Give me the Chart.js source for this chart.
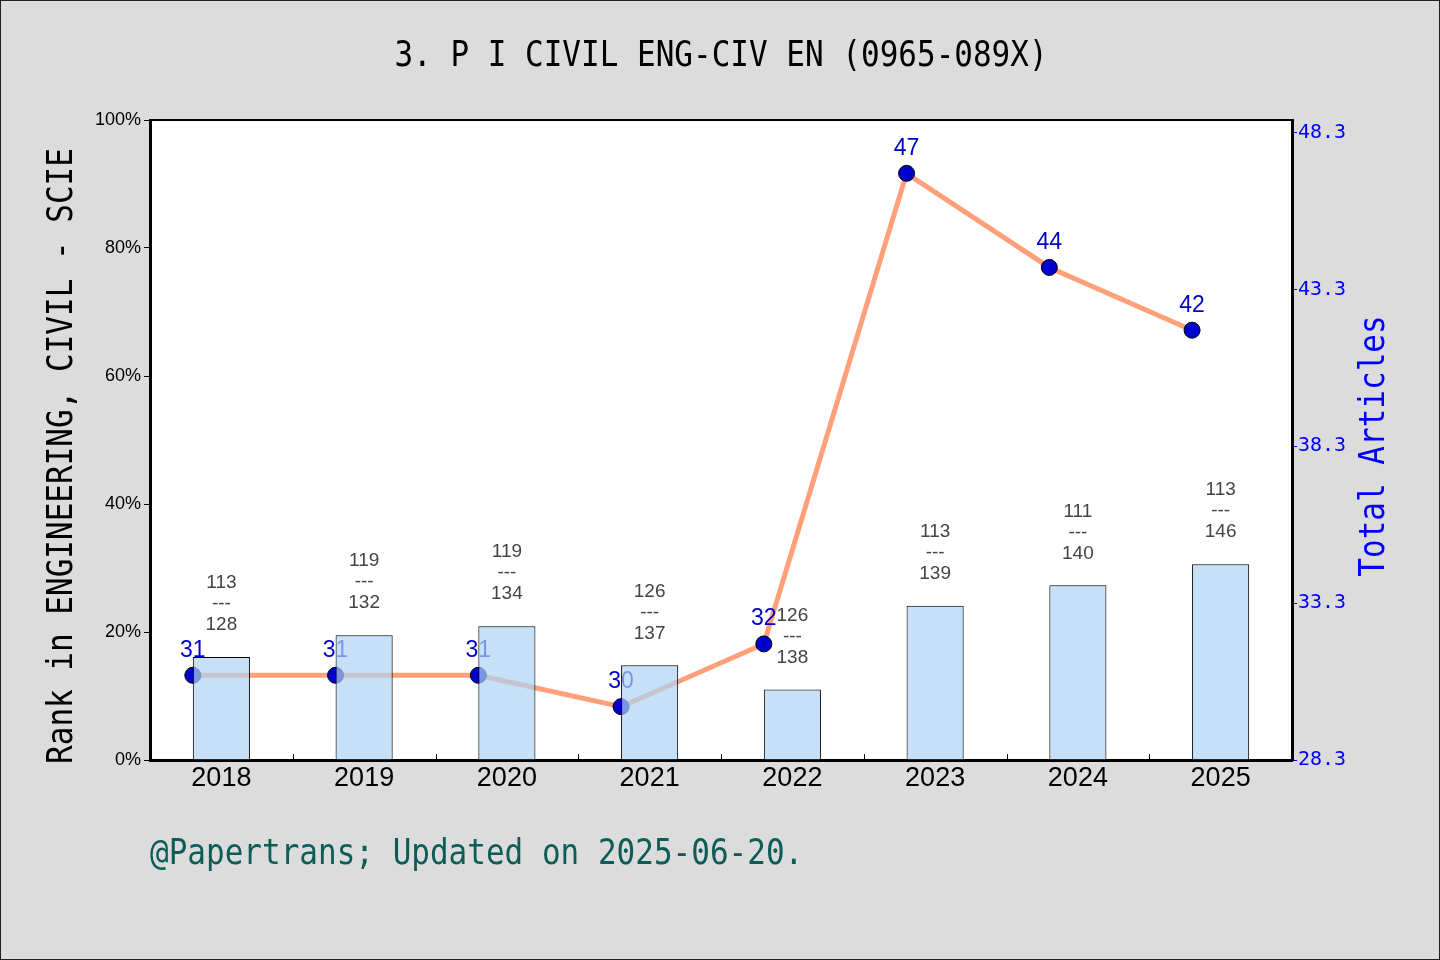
<!DOCTYPE html>
<html>
<head>
<meta charset="utf-8">
<title>Rank chart</title>
<script src="https://cdn.jsdelivr.net/npm/chart.js@4/dist/chart.umd.min.js"></script>
<style>
  html, body { margin: 0; padding: 0; background: #dcdcdc; }
  #chart { display: block; }
</style>
</head>
<body>
<canvas id="chart" width="1440" height="960"></canvas>
<script>
// data
const years = ["2018", "2019", "2020", "2021", "2022", "2023", "2024", "2025"];
const barPercent = [16.1, 19.5, 20.9, 14.8, 11.0, 24.1, 27.3, 30.6];
const rankValues = [113, 119, 119, 126, 126, 113, 111, 113];
const totalJournals = [128, 132, 134, 137, 138, 139, 140, 146];
const totalArticles = [31, 31, 31, 30, 32, 47, 44, 42];
const rightTicks = [28.3, 33.3, 38.3, 43.3, 48.3];

const mono = "'DejaVu Sans Mono', monospace";
const sans = "'Liberation Sans', Arial, sans-serif";

// mono text, a bit taller than wide like the original font
function tallText(ctx, text, x, y, color, align, rotate) {
    ctx.save();
    ctx.translate(x, y);
    if (rotate) ctx.rotate(-Math.PI / 2);
    ctx.scale(1, 1.15);
    ctx.font = "31px " + mono;
    ctx.fillStyle = color;
    ctx.textAlign = align;
    ctx.textBaseline = "middle";
    ctx.fillText(text, 0, 0);
    ctx.restore();
}

// background, frame and extra text
const decorPlugin = {
    id: "decor",
    beforeDraw(chart) {
        const ctx = chart.ctx;
        const a = chart.chartArea;
        ctx.save();
        ctx.fillStyle = "#dcdcdc";
        ctx.fillRect(0, 0, chart.width, chart.height);
        ctx.fillStyle = "#ffffff";
        ctx.fillRect(a.left, a.top, a.right - a.left, a.bottom - a.top);
        ctx.restore();
    },
    afterDraw(chart) {
        const ctx = chart.ctx;
        const a = chart.chartArea;
        const x = chart.scales.x;
        ctx.save();
        // plot frame top
        ctx.strokeStyle = "#000";
        ctx.lineWidth = 2;
        ctx.beginPath();
        ctx.moveTo(a.left, a.top);
        ctx.lineTo(a.right, a.top);
        ctx.stroke();
        // small inner ticks between years
        ctx.lineWidth = 1;
        for (let i = 0; i < years.length - 1; i++) {
            const px = Math.round((x.getPixelForValue(i) + x.getPixelForValue(i + 1)) / 2) + 0.5;
            ctx.beginPath();
            ctx.moveTo(px, a.bottom);
            ctx.lineTo(px, a.bottom - 6);
            ctx.stroke();
        }
        // outer border
        ctx.strokeStyle = "#222";
        ctx.strokeRect(0.5, 0.5, chart.width - 1, chart.height - 1);
        ctx.restore();

        tallText(ctx, "3. P I CIVIL ENG-CIV EN (0965-089X)", 721, 57, "#000", "center", false);
        tallText(ctx, "Rank in ENGINEERING, CIVIL - SCIE", 63, 456, "#000", "center", true);
        tallText(ctx, "Total Articles", 1375, 446, "#0000ff", "center", true);
        tallText(ctx, "@Papertrans; Updated on 2025-06-20.", 150, 855, "#0d5c57", "left", false);
    }
};

// labels: article counts under the bars, rank fractions on top
const labelPlugin = {
    id: "labels",
    afterDatasetDraw(chart, args) {
        if (args.index !== 1) return;
        const ctx = chart.ctx;
        ctx.save();
        ctx.fillStyle = "#0000cc";
        ctx.font = "23px " + sans;
        ctx.textAlign = "center";
        ctx.textBaseline = "middle";
        args.meta.data.forEach((pt, i) => {
            ctx.fillText(String(totalArticles[i]), pt.x, pt.y - 25);
        });
        ctx.restore();
    },
    afterDatasetsDraw(chart) {
        const ctx = chart.ctx;
        const meta = chart.getDatasetMeta(0);
        ctx.save();
        ctx.fillStyle = "#444";
        ctx.font = "19px " + sans;
        ctx.textAlign = "center";
        ctx.textBaseline = "middle";
        meta.data.forEach((bar, i) => {
            ctx.fillText(String(totalJournals[i]), bar.x, bar.y - 32);
            ctx.fillText("---", bar.x, bar.y - 53);
            ctx.fillText(String(rankValues[i]), bar.x, bar.y - 74);
        });
        ctx.restore();
    }
};

new Chart(document.getElementById("chart"), {
    type: "bar",
    data: {
        labels: years,
        datasets: [{
            type: "bar",
            data: barPercent,
            yAxisID: "y",
            xAxisID: "x",
            backgroundColor: "rgba(174, 211, 244, 0.7)",
            borderColor: "#000",
            borderWidth: 1,
            barPercentage: 0.4,
            categoryPercentage: 1.0,
            grouped: false,
            order: 0
        }, {
            type: "line",
            data: totalArticles.map((v, i) => ({ x: i - 0.2, y: v })),
            yAxisID: "y1",
            xAxisID: "x2",
            borderColor: "#ffa07a",
            borderWidth: 5,
            pointRadius: 8,
            pointBackgroundColor: "#0000cc",
            pointBorderColor: "#000",
            pointBorderWidth: 1,
            tension: 0,
            order: 1
        }]
    },
    options: {
        responsive: false,
        animation: false,
        layout: { padding: { top: 120, left: 0, right: 0, bottom: 0 } },
        plugins: {
            legend: { display: false },
            tooltip: { enabled: false },
            title: { display: false }
        },
        scales: {
            x: {
                type: "category",
                offset: true,
                grid: { display: false, drawTicks: false, offset: true },
                border: { display: true, color: "#000", width: 3 },
                ticks: { color: "#000", font: { family: sans, size: 27 }, padding: 2 },
                afterFit(s) { s.height = 200; }
            },
            x2: {
                type: "linear",
                min: -0.5,
                max: 7.5,
                offset: false,
                display: false
            },
            y: {
                position: "left",
                min: 0,
                max: 100,
                ticks: {
                    stepSize: 20,
                    color: "#000",
                    font: { family: sans, size: 18 },
                    padding: 3,
                    callback: v => v + "%"
                },
                grid: { drawOnChartArea: false, drawTicks: true, tickLength: 6, color: "#000" },
                border: { display: true, color: "#000", width: 3 },
                afterFit(s) { s.width = 150; }
            },
            y1: {
                position: "right",
                min: 28.3,
                max: 48.7,
                afterBuildTicks(s) { s.ticks = rightTicks.map(v => ({ value: v })); },
                ticks: {
                    color: "#0000ff",
                    font: { family: mono, size: 20 },
                    padding: 1,
                    callback: v => Number(v).toFixed(1)
                },
                grid: { drawOnChartArea: false, drawTicks: true, tickLength: 5, color: "#0000ff" },
                border: { display: true, color: "#000", width: 3 },
                afterFit(s) { s.width = 148; }
            }
        }
    },
    plugins: [decorPlugin, labelPlugin]
});
</script>
</body>
</html>
